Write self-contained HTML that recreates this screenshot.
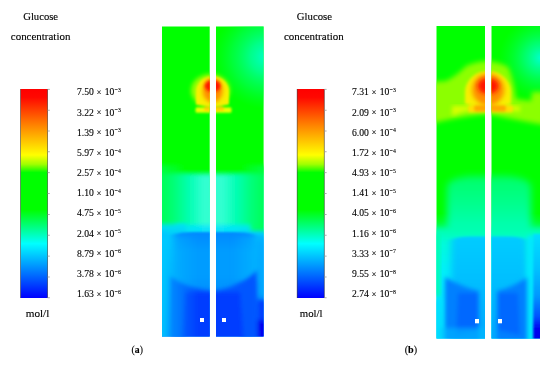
<!DOCTYPE html>
<html><head><meta charset="utf-8">
<style>
html,body{margin:0;padding:0;background:#fff;}
body{width:550px;height:367px;overflow:hidden;position:relative;}
svg{position:absolute;left:0;top:0;display:block;}
text{font-family:"Liberation Serif",serif;fill:#000;stroke:#000;stroke-width:0.12px;}
.t{font-size:10.4px;}
.s{font-size:6.8px;}
.c{font-size:9.6px;}
.x{font-size:8px;}
</style></head><body>
<svg width="550" height="367" viewBox="0 0 550 367">
<defs>
<linearGradient id="cb" x1="0" y1="0" x2="0" y2="1">
<stop offset="0" stop-color="#ff0000"/>
<stop offset="0.04" stop-color="#ff0800"/>
<stop offset="0.17" stop-color="#ff8000"/>
<stop offset="0.316" stop-color="#ffff00"/>
<stop offset="0.36" stop-color="#a0ff00"/>
<stop offset="0.40" stop-color="#00ff00"/>
<stop offset="0.577" stop-color="#00ff00"/>
<stop offset="0.74" stop-color="#00ffff"/>
<stop offset="1" stop-color="#0000ff"/>
</linearGradient>
<linearGradient id="baseA" gradientUnits="userSpaceOnUse" x1="0" y1="27" x2="0" y2="336">
<stop offset="0" stop-color="#00ff00"/>
<stop offset="0.46" stop-color="#00ff00"/>
<stop offset="0.485" stop-color="#00ff70"/>
<stop offset="0.56" stop-color="#00ff98"/>
<stop offset="0.62" stop-color="#00ffb8"/>
<stop offset="0.645" stop-color="#00f8e0"/>
<stop offset="0.67" stop-color="#00d0ff"/>
<stop offset="0.70" stop-color="#00b8ff"/>
<stop offset="1" stop-color="#0090ff"/>
</linearGradient>
<linearGradient id="baseB" gradientUnits="userSpaceOnUse" x1="0" y1="26" x2="0" y2="338.500">
<stop offset="0" stop-color="#00ff00"/>
<stop offset="0.6" stop-color="#00ff00"/>
<stop offset="0.64" stop-color="#00ff40"/>
<stop offset="0.68" stop-color="#00ffc0"/>
<stop offset="1" stop-color="#00d0ff"/>
</linearGradient>
<linearGradient id="outA" gradientUnits="userSpaceOnUse" x1="0" y1="226" x2="0" y2="336">
<stop offset="0" stop-color="#00e0f0"/>
<stop offset="0.1" stop-color="#00c8ff"/>
<stop offset="0.5" stop-color="#00a8ff"/>
<stop offset="1" stop-color="#0080ff"/>
</linearGradient>
<linearGradient id="cylA" gradientUnits="userSpaceOnUse" x1="0" y1="231" x2="0" y2="336">
<stop offset="0" stop-color="#0088ff"/>
<stop offset="0.2" stop-color="#009cff"/>
<stop offset="0.42" stop-color="#009cff"/>
<stop offset="1" stop-color="#0070ff"/>
</linearGradient>
<linearGradient id="bandA" gradientUnits="userSpaceOnUse" x1="162" y1="0" x2="264" y2="0">
<stop offset="0" stop-color="#00ff58"/>
<stop offset="0.12" stop-color="#00ff78"/>
<stop offset="0.26" stop-color="#00ffb0"/>
<stop offset="0.4" stop-color="#30ffd0"/>
<stop offset="0.6" stop-color="#30ffd0"/>
<stop offset="0.74" stop-color="#00ffb0"/>
<stop offset="0.88" stop-color="#00ff78"/>
<stop offset="1" stop-color="#00ff58"/>
</linearGradient>
<linearGradient id="edgeA" gradientUnits="userSpaceOnUse" x1="162" y1="0" x2="264" y2="0">
<stop offset="0" stop-color="#00ff40"/>
<stop offset="0.16" stop-color="#00ff30" stop-opacity="0.6"/>
<stop offset="0.24" stop-color="#00ff00" stop-opacity="0"/>
<stop offset="0.76" stop-color="#00ff00" stop-opacity="0"/>
<stop offset="0.84" stop-color="#00ff30" stop-opacity="0.6"/>
<stop offset="1" stop-color="#00ff40"/>
</linearGradient>
<linearGradient id="bandB" gradientUnits="userSpaceOnUse" x1="0" y1="177" x2="0" y2="235">
<stop offset="0" stop-color="#00ff68"/>
<stop offset="0.5" stop-color="#00ff90"/>
<stop offset="0.85" stop-color="#00ffb0"/>
<stop offset="1" stop-color="#00ffd0"/>
</linearGradient>
<linearGradient id="edgeB" gradientUnits="userSpaceOnUse" x1="436.500" y1="0" x2="540" y2="0">
<stop offset="0" stop-color="#00ff30"/>
<stop offset="0.16" stop-color="#00ff20" stop-opacity="0.6"/>
<stop offset="0.24" stop-color="#00ff00" stop-opacity="0"/>
<stop offset="0.76" stop-color="#00ff00" stop-opacity="0"/>
<stop offset="0.84" stop-color="#00ff20" stop-opacity="0.6"/>
<stop offset="1" stop-color="#00ff30"/>
</linearGradient>
<linearGradient id="outB" gradientUnits="userSpaceOnUse" x1="0" y1="224" x2="0" y2="338">
<stop offset="0" stop-color="#00ff90" stop-opacity="0"/>
<stop offset="0.06" stop-color="#00ffb0"/>
<stop offset="0.16" stop-color="#00fcd8"/>
<stop offset="0.4" stop-color="#00f0f8"/>
<stop offset="0.7" stop-color="#00e4ff"/>
<stop offset="1" stop-color="#00d8ff"/>
</linearGradient>
<linearGradient id="cylB" gradientUnits="userSpaceOnUse" x1="0" y1="236" x2="0" y2="338">
<stop offset="0" stop-color="#00ccff"/>
<stop offset="0.4" stop-color="#00c0ff"/>
<stop offset="1" stop-color="#00a8ff"/>
</linearGradient>
<linearGradient id="rsB" gradientUnits="userSpaceOnUse" x1="0" y1="232" x2="0" y2="338">
<stop offset="0" stop-color="#00e0ff"/>
<stop offset="0.35" stop-color="#00c0ff"/>
<stop offset="0.6" stop-color="#0098ff"/>
<stop offset="0.8" stop-color="#0050ff"/>
<stop offset="0.92" stop-color="#0000f0"/>
<stop offset="1" stop-color="#0000e8"/>
</linearGradient>
<linearGradient id="outA2" gradientUnits="userSpaceOnUse" x1="0" y1="231" x2="0" y2="336">
<stop offset="0" stop-color="#00d8f8"/>
<stop offset="0.12" stop-color="#00a8ff"/>
<stop offset="0.5" stop-color="#0098ff"/>
<stop offset="1" stop-color="#0078ff"/>
</linearGradient>
<linearGradient id="lfA" gradientUnits="userSpaceOnUse" x1="162" y1="0" x2="198" y2="0">
<stop offset="0" stop-color="#00d0ff" stop-opacity="0.55"/>
<stop offset="0.4" stop-color="#00c8ff" stop-opacity="0.35"/>
<stop offset="1" stop-color="#00c0ff" stop-opacity="0"/>
</linearGradient>
<linearGradient id="rfA" gradientUnits="userSpaceOnUse" x1="232" y1="0" x2="256" y2="0">
<stop offset="0" stop-color="#00c8ff" stop-opacity="0"/>
<stop offset="1" stop-color="#00c8ff" stop-opacity="0.45"/>
</linearGradient>
<radialGradient id="hotA" gradientUnits="userSpaceOnUse" cx="212.7" cy="87" r="21">
<stop offset="0" stop-color="#ff1000"/>
<stop offset="0.22" stop-color="#ff3000"/>
<stop offset="0.45" stop-color="#ff9800"/>
<stop offset="0.68" stop-color="#fff000"/>
<stop offset="0.82" stop-color="#c0ff00"/>
<stop offset="1" stop-color="#00ff00" stop-opacity="0"/>
</radialGradient>
<radialGradient id="hotB" gradientUnits="userSpaceOnUse" cx="488.2" cy="87" r="24">
<stop offset="0" stop-color="#ff1000"/>
<stop offset="0.25" stop-color="#ff3800"/>
<stop offset="0.5" stop-color="#ff9000"/>
<stop offset="0.75" stop-color="#fff000"/>
<stop offset="0.88" stop-color="#c0ff00"/>
<stop offset="1" stop-color="#80ff00" stop-opacity="0"/>
</radialGradient>
<radialGradient id="cyA" gradientUnits="userSpaceOnUse" cx="266" cy="57" r="52">
<stop offset="0" stop-color="#00ffc8"/>
<stop offset="0.3" stop-color="#00ff98" stop-opacity="0.9"/>
<stop offset="0.65" stop-color="#00ff60" stop-opacity="0.6"/>
<stop offset="1" stop-color="#00ff40" stop-opacity="0"/>
</radialGradient>
<radialGradient id="cyB" gradientUnits="userSpaceOnUse" cx="541" cy="58" r="42">
<stop offset="0" stop-color="#00ffd0"/>
<stop offset="0.4" stop-color="#00ff80" stop-opacity="0.8"/>
<stop offset="1" stop-color="#00ff40" stop-opacity="0"/>
</radialGradient>
<filter id="b1" x="-20%" y="-20%" width="140%" height="140%"><feGaussianBlur stdDeviation="1"/></filter>
<filter id="b15" x="-20%" y="-20%" width="140%" height="140%"><feGaussianBlur stdDeviation="1.5"/></filter>
<filter id="bx" x="-20%" y="-20%" width="140%" height="140%"><feGaussianBlur stdDeviation="3.5 1"/></filter>
<filter id="b2" x="-20%" y="-20%" width="140%" height="140%"><feGaussianBlur stdDeviation="2"/></filter>
<filter id="b25" x="-20%" y="-20%" width="140%" height="140%"><feGaussianBlur stdDeviation="2.5"/></filter>
<filter id="b3" x="-30%" y="-30%" width="160%" height="160%"><feGaussianBlur stdDeviation="3.5"/></filter>
<filter id="b5" x="-30%" y="-30%" width="160%" height="160%"><feGaussianBlur stdDeviation="5"/></filter>
<clipPath id="clipA"><rect x="162" y="26.6" width="47.7" height="309.9"/><rect x="216" y="26.6" width="47.6" height="309.9"/></clipPath>
<clipPath id="clipB"><rect x="436.5" y="26" width="48.5" height="312.5"/><rect x="491.5" y="26" width="48.5" height="312.5"/></clipPath>
</defs>

<!-- colorbar a -->
<rect x="20.600" y="89" width="27" height="209" fill="url(#cb)"/>
<rect x="20.300" y="89" width="0.7" height="209" fill="#222" opacity="0.7"/>
<rect x="47.100" y="89" width="0.7" height="209" fill="#222" opacity="0.7"/>
<!-- colorbar b -->
<rect x="297.100" y="89" width="27.200" height="209" fill="url(#cb)"/>
<rect x="296.800" y="89" width="0.7" height="209" fill="#222" opacity="0.7"/>
<rect x="323.900" y="89" width="0.7" height="209" fill="#222" opacity="0.7"/>
<rect x="47.6" y="88.9" width="2.2" height="0.8" fill="#999"/>
<rect x="47.6" y="109.8" width="2.2" height="0.8" fill="#999"/>
<rect x="47.6" y="130.6" width="2.2" height="0.8" fill="#999"/>
<rect x="47.6" y="151.4" width="2.2" height="0.8" fill="#999"/>
<rect x="47.6" y="172.3" width="2.2" height="0.8" fill="#999"/>
<rect x="47.6" y="193.2" width="2.2" height="0.8" fill="#999"/>
<rect x="47.6" y="214.0" width="2.2" height="0.8" fill="#999"/>
<rect x="47.6" y="234.8" width="2.2" height="0.8" fill="#999"/>
<rect x="47.6" y="255.7" width="2.2" height="0.8" fill="#999"/>
<rect x="47.6" y="276.6" width="2.2" height="0.8" fill="#999"/>
<rect x="47.6" y="297.4" width="2.2" height="0.8" fill="#999"/>
<rect x="324.4" y="88.9" width="2.2" height="0.8" fill="#999"/>
<rect x="324.4" y="109.8" width="2.2" height="0.8" fill="#999"/>
<rect x="324.4" y="130.6" width="2.2" height="0.8" fill="#999"/>
<rect x="324.4" y="151.4" width="2.2" height="0.8" fill="#999"/>
<rect x="324.4" y="172.3" width="2.2" height="0.8" fill="#999"/>
<rect x="324.4" y="193.2" width="2.2" height="0.8" fill="#999"/>
<rect x="324.4" y="214.0" width="2.2" height="0.8" fill="#999"/>
<rect x="324.4" y="234.8" width="2.2" height="0.8" fill="#999"/>
<rect x="324.4" y="255.7" width="2.2" height="0.8" fill="#999"/>
<rect x="324.4" y="276.6" width="2.2" height="0.8" fill="#999"/>
<rect x="324.4" y="297.4" width="2.2" height="0.8" fill="#999"/>
<!-- panel a -->
<g clip-path="url(#clipA)">
<rect x="150" y="20" width="130" height="325" fill="url(#baseA)"/>
<rect x="216" y="20" width="60" height="120" fill="url(#cyA)"/>
<g filter="url(#b2)">
<rect x="150" y="165" width="130" height="12" fill="url(#edgeA)"/>
<rect x="150" y="174.500" width="130" height="60" fill="url(#bandA)"/>
<rect x="176" y="225" width="74" height="10" fill="#00e0ff" opacity="0.85"/>
</g>
<g filter="url(#b2)">
<rect x="150" y="224" width="36" height="130" fill="url(#outA)"/>
<rect x="240" y="231" width="40" height="125" fill="url(#outA2)"/>
</g>
<g filter="url(#bx)">
<path d="M173 237 Q173 232.500 192 232 L234 232 Q255 232.500 256 237 L256 345 L173 345 Z" fill="url(#cylA)"/>
</g>
<!-- dark blue bowl -->
<g filter="url(#b2)">
<rect x="228" y="236" width="30" height="44" fill="url(#rfA)"/>
<path d="M170 276 Q188 289 213 291 Q238 288 257 270 L258 345 L170 345 Z" fill="#0056ff"/>
<path d="M185 292 L240 292 L244 345 L182 345 Z" fill="#003cff"/>
<rect x="156" y="232" width="10" height="120" fill="#00c0ff" opacity="0.7"/>
<rect x="160" y="236" width="40" height="110" fill="url(#lfA)"/>
<rect x="259" y="236" width="10" height="60" fill="#00b0ff" opacity="0.7"/>
<rect x="258" y="300" width="10" height="50" fill="#0040ff"/>
<rect x="257.500" y="320" width="10" height="30" fill="#0000f0"/>
</g>
<!-- hot spot -->
<g filter="url(#b2)">
<ellipse cx="210.500" cy="90.500" rx="19.500" ry="16.500" fill="#98ff00"/>
</g>
<g filter="url(#b1)">
<path d="M196 104.500 L196 92 A16.500 15.800 0 0 1 229 92 L229 104.500 Q212.700 108 196 104.500 Z" fill="#f8f000"/>
<rect x="195.5" y="107.3" width="36" height="5.4" rx="1.5" fill="#e8ff00"/>
<rect x="204" y="106.5" width="20" height="4.5" rx="1.5" fill="#ffd000"/>
</g>
<g filter="url(#b2)">
<ellipse cx="212.7" cy="90.5" rx="10" ry="12" fill="#ff8c00"/>
</g>
<g filter="url(#b15)">
<ellipse cx="212.7" cy="86" rx="8" ry="6" fill="#ff1400"/>
</g>
</g>
<!-- white squares a -->
<rect x="200" y="318" width="4" height="4" fill="#fff"/>
<rect x="222" y="318" width="4" height="4" fill="#fff"/>

<!-- panel b -->
<g clip-path="url(#clipB)">
<rect x="430" y="20" width="120" height="325" fill="url(#baseB)"/>
<rect x="491" y="20" width="60" height="120" fill="url(#cyB)"/>
<g filter="url(#b25)">
<path d="M430 82 L446 81 Q458 75 466 66 Q488 56 508 67 Q514 80 516 99 L531 101 L532 92 L545 92 L545 125 Q520 121 488 114 Q456 117 430 124 Z" fill="#8cff00"/>
</g>
<g filter="url(#b2)">
<path d="M452 116 Q470 108 488 108 Q506 108 520 112 L520 106 L452 106 Z" fill="#d8ff00"/>
</g>
<g filter="url(#b15)">
<path d="M465 104 L465 92 A23 21 0 0 1 511 92 L511 104 Q488 109 465 104 Z" fill="#f8f000"/>
<rect x="468" y="105.500" width="45" height="7" rx="2" fill="#ffe000"/>
<rect x="474" y="105" width="32" height="6.500" rx="2" fill="#ffa800"/>
</g>
<g filter="url(#b25)">
<ellipse cx="488.200" cy="89.500" rx="16" ry="16" fill="#ff8c00"/>
</g>
<g filter="url(#b2)">
<ellipse cx="488.200" cy="86" rx="10.500" ry="8" fill="#ff1800"/>
</g>
<!-- lower -->
<g filter="url(#b3)">
<path d="M447 250 L447 186 Q449 178 470 176 L508 176 Q529 178 531 186 L531 250 Z" fill="url(#bandB)"/>
</g>
<g filter="url(#b2)">
<rect x="425" y="224" width="130" height="130" fill="url(#outB)"/>
</g>
<g filter="url(#b2)">
<rect x="430" y="234" width="10" height="62" fill="#00ffa8" opacity="0.9"/>
</g>
<g filter="url(#bx)">
<path d="M451 242 Q451 237 468 236.500 L510 236.500 Q527 237 527 242 L527 350 L451 350 Z" fill="url(#cylB)"/>
</g>
<g filter="url(#b2)">
<path d="M445 277 Q462 287 479 291 L479 350 L445 350 Z" fill="#0080ff"/>
<path d="M529 276 Q514 287 497 291 L497 350 L529 350 Z" fill="#0080ff"/>
<path d="M458 293 L478 293 L478 330 L456 335 Z" fill="#0068ff"/>
<path d="M518 293 L498 293 L498 330 L520 335 Z" fill="#0068ff"/>
<rect x="431" y="300" width="11" height="60" fill="#00e0ff" opacity="0.85"/>
<rect x="440" y="328" width="46" height="16" fill="#00c0ff" opacity="0.55"/>
<rect x="527.500" y="236" width="7" height="120" fill="#00e8ff"/>
</g>
<g filter="url(#b1)">
<rect x="533.200" y="234" width="12" height="120" fill="url(#rsB)"/>
</g>
</g>
<rect x="475" y="319" width="4" height="4.3" fill="#fff"/>
<rect x="498" y="319" width="4" height="4.3" fill="#fff"/>

<!-- text a -->
<text class="t" x="23.2" y="20" textLength="34.9" lengthAdjust="spacingAndGlyphs">Glucose</text>
<text class="t" x="10.8" y="40.1" textLength="59.6" lengthAdjust="spacingAndGlyphs">concentration</text>
<text class="t" x="25.7" y="317.1" textLength="23.6" lengthAdjust="spacingAndGlyphs">mol/l</text>
<text class="t" x="296.8" y="20" textLength="35.2" lengthAdjust="spacingAndGlyphs">Glucose</text>
<text class="t" x="284" y="40.1" textLength="59.7" lengthAdjust="spacingAndGlyphs">concentration</text>
<text class="t" x="299.8" y="317.1" textLength="22.8" lengthAdjust="spacingAndGlyphs">mol/l</text>
<!-- labels -->
<text class="t" x="76.9" y="95.3" textLength="16.9" lengthAdjust="spacingAndGlyphs">7.50</text><text class="x" x="96.7" y="95.0">×</text><text class="t" x="104.7" y="95.3" textLength="9.6" lengthAdjust="spacingAndGlyphs">10</text><text class="s" x="114.7" y="92.0" textLength="6.2" lengthAdjust="spacingAndGlyphs">−3</text>
<text class="t" x="76.9" y="115.5" textLength="16.9" lengthAdjust="spacingAndGlyphs">3.22</text><text class="x" x="96.7" y="115.2">×</text><text class="t" x="104.7" y="115.5" textLength="9.6" lengthAdjust="spacingAndGlyphs">10</text><text class="s" x="114.7" y="112.2" textLength="6.2" lengthAdjust="spacingAndGlyphs">−3</text>
<text class="t" x="76.9" y="135.6" textLength="16.9" lengthAdjust="spacingAndGlyphs">1.39</text><text class="x" x="96.7" y="135.3">×</text><text class="t" x="104.7" y="135.6" textLength="9.6" lengthAdjust="spacingAndGlyphs">10</text><text class="s" x="114.7" y="132.3" textLength="6.2" lengthAdjust="spacingAndGlyphs">−3</text>
<text class="t" x="76.9" y="155.8" textLength="16.9" lengthAdjust="spacingAndGlyphs">5.97</text><text class="x" x="96.7" y="155.5">×</text><text class="t" x="104.7" y="155.8" textLength="9.6" lengthAdjust="spacingAndGlyphs">10</text><text class="s" x="114.7" y="152.5" textLength="6.2" lengthAdjust="spacingAndGlyphs">−4</text>
<text class="t" x="76.9" y="176.0" textLength="16.9" lengthAdjust="spacingAndGlyphs">2.57</text><text class="x" x="96.7" y="175.7">×</text><text class="t" x="104.7" y="176.0" textLength="9.6" lengthAdjust="spacingAndGlyphs">10</text><text class="s" x="114.7" y="172.7" textLength="6.2" lengthAdjust="spacingAndGlyphs">−4</text>
<text class="t" x="76.9" y="196.2" textLength="16.9" lengthAdjust="spacingAndGlyphs">1.10</text><text class="x" x="96.7" y="195.8">×</text><text class="t" x="104.7" y="196.2" textLength="9.6" lengthAdjust="spacingAndGlyphs">10</text><text class="s" x="114.7" y="192.9" textLength="6.2" lengthAdjust="spacingAndGlyphs">−4</text>
<text class="t" x="76.9" y="216.3" textLength="16.9" lengthAdjust="spacingAndGlyphs">4.75</text><text class="x" x="96.7" y="216.0">×</text><text class="t" x="104.7" y="216.3" textLength="9.6" lengthAdjust="spacingAndGlyphs">10</text><text class="s" x="114.7" y="213.0" textLength="6.2" lengthAdjust="spacingAndGlyphs">−5</text>
<text class="t" x="76.9" y="236.5" textLength="16.9" lengthAdjust="spacingAndGlyphs">2.04</text><text class="x" x="96.7" y="236.2">×</text><text class="t" x="104.7" y="236.5" textLength="9.6" lengthAdjust="spacingAndGlyphs">10</text><text class="s" x="114.7" y="233.2" textLength="6.2" lengthAdjust="spacingAndGlyphs">−5</text>
<text class="t" x="76.9" y="256.7" textLength="16.9" lengthAdjust="spacingAndGlyphs">8.79</text><text class="x" x="96.7" y="256.4">×</text><text class="t" x="104.7" y="256.7" textLength="9.6" lengthAdjust="spacingAndGlyphs">10</text><text class="s" x="114.7" y="253.4" textLength="6.2" lengthAdjust="spacingAndGlyphs">−6</text>
<text class="t" x="76.9" y="276.8" textLength="16.9" lengthAdjust="spacingAndGlyphs">3.78</text><text class="x" x="96.7" y="276.5">×</text><text class="t" x="104.7" y="276.8" textLength="9.6" lengthAdjust="spacingAndGlyphs">10</text><text class="s" x="114.7" y="273.5" textLength="6.2" lengthAdjust="spacingAndGlyphs">−6</text>
<text class="t" x="76.9" y="297.0" textLength="16.9" lengthAdjust="spacingAndGlyphs">1.63</text><text class="x" x="96.7" y="296.7">×</text><text class="t" x="104.7" y="297.0" textLength="9.6" lengthAdjust="spacingAndGlyphs">10</text><text class="s" x="114.7" y="293.7" textLength="6.2" lengthAdjust="spacingAndGlyphs">−6</text>
<text class="t" x="351.9" y="95.3" textLength="16.9" lengthAdjust="spacingAndGlyphs">7.31</text><text class="x" x="371.7" y="95.0">×</text><text class="t" x="379.7" y="95.3" textLength="9.6" lengthAdjust="spacingAndGlyphs">10</text><text class="s" x="389.7" y="92.0" textLength="6.2" lengthAdjust="spacingAndGlyphs">−3</text>
<text class="t" x="351.9" y="115.5" textLength="16.9" lengthAdjust="spacingAndGlyphs">2.09</text><text class="x" x="371.7" y="115.2">×</text><text class="t" x="379.7" y="115.5" textLength="9.6" lengthAdjust="spacingAndGlyphs">10</text><text class="s" x="389.7" y="112.2" textLength="6.2" lengthAdjust="spacingAndGlyphs">−3</text>
<text class="t" x="351.9" y="135.6" textLength="16.9" lengthAdjust="spacingAndGlyphs">6.00</text><text class="x" x="371.7" y="135.3">×</text><text class="t" x="379.7" y="135.6" textLength="9.6" lengthAdjust="spacingAndGlyphs">10</text><text class="s" x="389.7" y="132.3" textLength="6.2" lengthAdjust="spacingAndGlyphs">−4</text>
<text class="t" x="351.9" y="155.8" textLength="16.9" lengthAdjust="spacingAndGlyphs">1.72</text><text class="x" x="371.7" y="155.5">×</text><text class="t" x="379.7" y="155.8" textLength="9.6" lengthAdjust="spacingAndGlyphs">10</text><text class="s" x="389.7" y="152.5" textLength="6.2" lengthAdjust="spacingAndGlyphs">−4</text>
<text class="t" x="351.9" y="176.0" textLength="16.9" lengthAdjust="spacingAndGlyphs">4.93</text><text class="x" x="371.7" y="175.7">×</text><text class="t" x="379.7" y="176.0" textLength="9.6" lengthAdjust="spacingAndGlyphs">10</text><text class="s" x="389.7" y="172.7" textLength="6.2" lengthAdjust="spacingAndGlyphs">−5</text>
<text class="t" x="351.9" y="196.2" textLength="16.9" lengthAdjust="spacingAndGlyphs">1.41</text><text class="x" x="371.7" y="195.8">×</text><text class="t" x="379.7" y="196.2" textLength="9.6" lengthAdjust="spacingAndGlyphs">10</text><text class="s" x="389.7" y="192.9" textLength="6.2" lengthAdjust="spacingAndGlyphs">−5</text>
<text class="t" x="351.9" y="216.3" textLength="16.9" lengthAdjust="spacingAndGlyphs">4.05</text><text class="x" x="371.7" y="216.0">×</text><text class="t" x="379.7" y="216.3" textLength="9.6" lengthAdjust="spacingAndGlyphs">10</text><text class="s" x="389.7" y="213.0" textLength="6.2" lengthAdjust="spacingAndGlyphs">−6</text>
<text class="t" x="351.9" y="236.5" textLength="16.9" lengthAdjust="spacingAndGlyphs">1.16</text><text class="x" x="371.7" y="236.2">×</text><text class="t" x="379.7" y="236.5" textLength="9.6" lengthAdjust="spacingAndGlyphs">10</text><text class="s" x="389.7" y="233.2" textLength="6.2" lengthAdjust="spacingAndGlyphs">−6</text>
<text class="t" x="351.9" y="256.7" textLength="16.9" lengthAdjust="spacingAndGlyphs">3.33</text><text class="x" x="371.7" y="256.4">×</text><text class="t" x="379.7" y="256.7" textLength="9.6" lengthAdjust="spacingAndGlyphs">10</text><text class="s" x="389.7" y="253.4" textLength="6.2" lengthAdjust="spacingAndGlyphs">−7</text>
<text class="t" x="351.9" y="276.8" textLength="16.9" lengthAdjust="spacingAndGlyphs">9.55</text><text class="x" x="371.7" y="276.5">×</text><text class="t" x="379.7" y="276.8" textLength="9.6" lengthAdjust="spacingAndGlyphs">10</text><text class="s" x="389.7" y="273.5" textLength="6.2" lengthAdjust="spacingAndGlyphs">−8</text>
<text class="t" x="351.9" y="297.0" textLength="16.9" lengthAdjust="spacingAndGlyphs">2.74</text><text class="x" x="371.7" y="296.7">×</text><text class="t" x="379.7" y="297.0" textLength="9.6" lengthAdjust="spacingAndGlyphs">10</text><text class="s" x="389.7" y="293.7" textLength="6.2" lengthAdjust="spacingAndGlyphs">−8</text>
<text class="c" x="131.6" y="353" textLength="11.3" lengthAdjust="spacingAndGlyphs">(<tspan font-weight="bold">a</tspan>)</text>
<text class="c" x="404.7" y="353" textLength="12.4" lengthAdjust="spacingAndGlyphs">(<tspan font-weight="bold">b</tspan>)</text>
</svg>
</body></html>
